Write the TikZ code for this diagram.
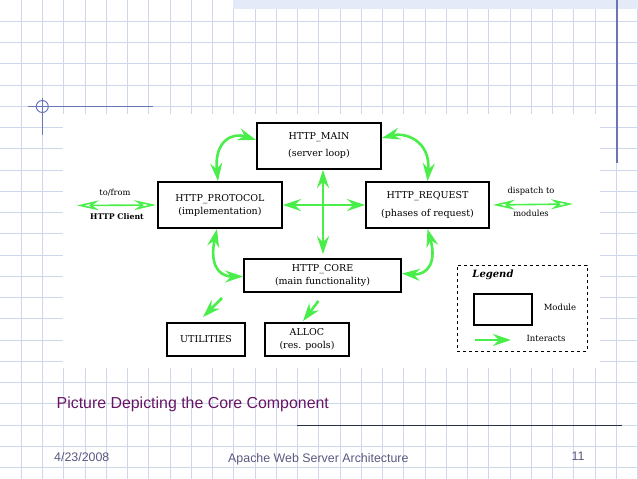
\documentclass[tikz,border=0pt]{standalone}
\usepackage{fontspec}
\setmainfont{DejaVu Serif}
\newfontfamily\slidefont{Liberation Sans}
\usepackage{tikz}
\usetikzlibrary{arrows.meta,positioning}
\definecolor{gridblue}{RGB}{206,215,236}
\definecolor{rulerblue}{RGB}{104,118,182}
\definecolor{bandblue}{RGB}{228,234,248}
\definecolor{linkgreen}{RGB}{74,238,74}
\definecolor{titlepurple}{RGB}{102,20,102}
\definecolor{footgray}{RGB}{88,88,128}

\begin{document}
\begin{tikzpicture}[
    x=1pt, y=-1pt,
    gridline/.style={gridblue, line width=0.9pt},
    ruler/.style={rulerblue, line width=1.2pt},
    module/.style={rectangle, draw, line width=1.8pt, inner sep=0pt, align=center, font=\fontsize{9.5}{10}\selectfont},
    link/.style={draw=linkgreen, line width=2.6pt, >={Stealth[length=18pt,width=12pt,inset=6pt]}},
    clientlink/.style={draw=linkgreen, line width=1.6pt, <->, >={Stealth[open,length=22pt,width=10pt,inset=7pt]}},
    note/.style={font=\fontsize{8.3}{10}\selectfont, inner sep=0pt},
    slidetext/.style={anchor=base west, inner sep=0pt, font=\slidefont\fontsize{12.4}{15}\selectfont, text=footgray}
]
    % Slide background
    \useasboundingbox (0,0) rectangle (638,479);
    \foreach \k in {1,...,30} \draw[gridline] ({\k*21.25},0) -- ({\k*21.25},479);
    \foreach \k in {1,...,22} \draw[gridline] (0,{\k*21.25}) -- (638,{\k*21.25});
    \fill[bandblue] (233,0) rectangle (638,9);
    \fill[white] (63,114) rectangle (600,368);
    \draw[ruler] (617,0) -- (617,163);
    \draw[ruler] (28,106.5) -- (153,106.5);
    \draw[ruler] (42.3,98) -- (42.3,135);
    \draw[ruler, line width=1pt] (42.3,106.5) circle[radius=6pt];

    % Modules
    \node[module, minimum width=124pt, minimum height=46pt] (main) at (319,146) {HTTP\_MAIN\\[7pt](server loop)};
    \node[module, minimum width=124pt, minimum height=46pt] (protocol) at (220,205) {HTTP\_PROTOCOL\\[3pt](implementation)};
    \node[module, minimum width=123pt, minimum height=46pt] (request) at (427.5,205) {HTTP\_REQUEST\\[8pt](phases of request)};
    \node[module, minimum width=157pt, minimum height=33pt] (core) at (322.5,275.5) {HTTP\_CORE\\[3pt](main functionality)};
    \node[module, minimum width=78pt, minimum height=33pt] (utilities) at (206,339.5) {UTILITIES};
    \node[module, minimum width=84pt, minimum height=33pt] (alloc) at (307,339.5) {ALLOC\\[3pt](res. pools)};

    % Central cross
    \coordinate (hub) at (323,205);
    \draw[link, ->] (hub) -- (hub |- main.south);
    \draw[link, ->, shorten >=4pt] (hub) -- (hub |- core.north);
    \draw[link, ->] (hub) -- (protocol.east);
    \draw[link, ->] (hub) -- (request.west);

    % Interactions
    \draw[link, <->] ([xshift=-2pt]protocol.north) .. controls +(-4,-40) and +(-24,-8) .. ([yshift=6pt]main.west);
    \draw[link, <->] ([yshift=8pt]main.east) .. controls +(24,-6) and +(3,-40) .. (request.north);
    \draw[link, <->] ([xshift=-3pt]protocol.south) .. controls +(-7,32) and +(-27,0) .. ([yshift=-1pt]core.west);
    \draw[link, <->] (request.south) .. controls +(9,32) and +(27,2) .. ([yshift=2pt]core.east);
    \draw[link, ->] ([shift={(-21,5)}]core.south west) -- ([shift={(-3,-5)}]utilities.north);
    \draw[link, ->] ([shift={(-4,8)}]core.south) -- ([shift={(-4,-1)}]alloc.north);

    % Outside links
    \coordinate (clientend) at (77,205.5);
    \coordinate (dispatchend) at (573,204);
    \draw[clientlink, shorten >=1pt] (clientend) -- (protocol.west);
    \draw[clientlink, shorten <=3pt] (request.east) -- (dispatchend);
    \node[note] (tofrom) at (115,193) {to/from};
    \node[note, font=\fontsize{7.8}{10}\selectfont\bfseries] (client) at (117,217) {HTTP Client};
    \node[note] (dispatch) at (531,191) {dispatch to};
    \node[note] (modules) at (531,213) {modules};

    % Legend
    \node[draw, dashed, line width=0.9pt, minimum width=130pt, minimum height=86pt, inner sep=0pt] (legend) at (522,308) {};
    \node[inner sep=0pt, font=\fontsize{10}{12}\selectfont\bfseries\itshape] (legendtitle) at (493,275) {Legend};
    \node[draw, line width=1.8pt, minimum width=58pt, minimum height=31pt, inner sep=0pt] (sample) at (503,309.5) {};
    \node[note, font=\fontsize{8.5}{10}\selectfont] (modulelabel) at (560,307) {Module};
    \coordinate (samplestart) at (475,340);
    \coordinate (sampleend) at (511,340);
    \draw[link, ->] (samplestart) -- (sampleend);
    \node[note, font=\fontsize{8.5}{10}\selectfont] (interactslabel) at (546,338) {Interacts};

    % Caption and footer
    \node[slidetext, font=\slidefont\fontsize{15.9}{19}\selectfont, text=titlepurple] (caption) at (56.5,408.5) {Picture Depicting the Core Component};
    \draw[rulerblue!40!black, line width=1pt] (297,425) -- (622,425);
    \node[slidetext] (date) at (54,461.5) {4/23/2008};
    \node[slidetext] (title) at (228,462) {Apache Web Server Architecture};
    \node[slidetext] (pageno) at (571.5,460) {11};
\end{tikzpicture}
\end{document}
